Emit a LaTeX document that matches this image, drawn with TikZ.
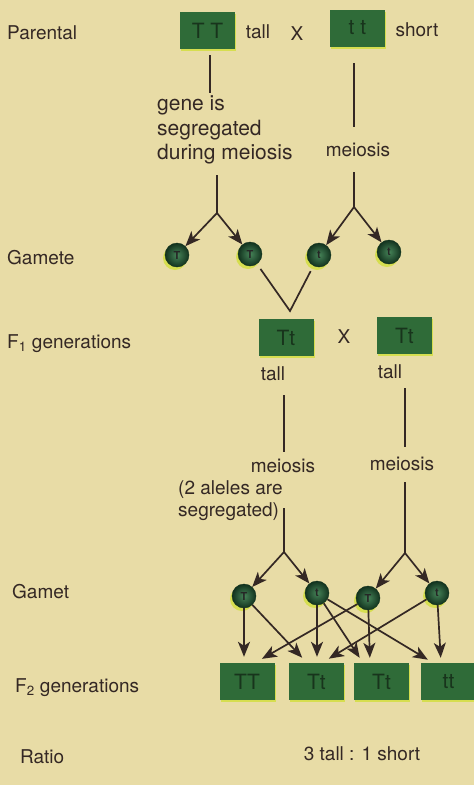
\documentclass[tikz,border=0pt]{standalone}
\usepackage{fontspec}
\setmainfont{TeX Gyre Heros}
\usetikzlibrary{arrows.meta,positioning,calc}
\definecolor{paper}{RGB}{232,220,166}
\definecolor{ink}{RGB}{52,40,36}
\definecolor{boxgreen}{RGB}{47,107,56}
\definecolor{boxtext}{RGB}{24,52,28}
\definecolor{glow}{RGB}{214,222,80}
\definecolor{gamdark}{RGB}{18,50,30}
\definecolor{gamlight}{RGB}{70,132,88}

\begin{document}
\begin{tikzpicture}[x=1pt, y=-1pt, >=Stealth,
  txt/.style={inner sep=0pt, text=ink, font=\fontsize{19}{23}\selectfont, text height=14pt, text depth=4pt},
  side/.style={txt, anchor=west},
  note/.style={inner sep=0pt, text=ink, align=left, anchor=west, font=\fontsize{19}{22}\selectfont},
  geno/.style={fill=boxgreen, minimum width=55pt, minimum height=37pt, inner sep=0pt, text=boxtext,
    font=\fontsize{21}{21}\selectfont, preaction={fill=glow, transform canvas={shift={(1pt,-2pt)}}}},
  gam/.style={circle, minimum size=24pt, inner sep=0pt, inner color=gamlight, outer color=gamdark,
    draw=gamdark, thin, text=black!85, font=\fontsize{11}{11}\selectfont\bfseries,
    preaction={fill=glow, transform canvas={shift={(-2pt,-3pt)}}}},
  link/.style={draw=ink, line width=1.7pt},
  arr/.style={link, -{Stealth[length=15pt, width=12pt, inset=4pt]}}]

  \fill[paper] (0,0) rectangle (474,785);
  \useasboundingbox (0,0) rectangle (474,785);

  % Row labels
  \node[side] (lpar) at (7,34) {Parental};
  \node[side] (lgam) at (7,259) {Gamete};
  \node[side] (lfa) at (7,343) {F\textsubscript{1} generations};
  \node[side] (lgamb) at (12,593) {Gamet};
  \node[side] (lfb) at (15,687) {F\textsubscript{2} generations};
  \node[side] (lratio) at (20,758) {Ratio};

  % Parents
  \node[geno] (pTT) at (207.5,30.5) {T T};
  \node[txt] (tallp) at (258,33) {tall};
  \node[txt] (xp) at (297,35) {X};
  \node[geno] (ptt) at (357.5,28) {t t};
  \node[txt] (shortp) at (417,31) {short};
  \node[note, font=\fontsize{21}{24.5}\selectfont] (seg) at (157,130) {gene is\\segregated\\during meiosis};
  \node[txt] (meia) at (358,151) {meiosis};
  \coordinate (fa) at (217,213);
  \coordinate (fb) at (354,207);

  % Gametes
  \node[gam] (g1) at (177,255) {T};
  \node[gam] (g2) at (250,254) {T};
  \node[gam] (g3) at (319,255) {t};
  \node[gam] (g4) at (389,252) {t};
  \coordinate (va) at (290,311);

  % F1
  \node[geno] (fTt) at (286,337.5) {Tt};
  \node[txt] (xf) at (344,338) {X};
  \node[geno] (fTtb) at (404.5,335.5) {Tt};
  \node[txt] (tallf) at (273,375) {tall};
  \node[txt] (tallg) at (390,373) {tall};
  \node[txt] (meib) at (283,467) {meiosis};
  \node[note] (alel) at (178,501) {(2 aleles are\\segregated)};
  \node[txt] (meic) at (402,465) {meiosis};
  \coordinate (fc) at (284,552);
  \coordinate (fd) at (405,553);

  % Gametes of F1
  \node[gam] (h1) at (244,596) {T};
  \node[gam] (h2) at (317,593) {t};
  \node[gam] (h3) at (368,598) {T};
  \node[gam] (h4) at (437,593) {t};

  % F2
  \node[geno] (sTT) at (247,681.5) {TT};
  \node[geno] (sTt) at (316.5,681.5) {Tt};
  \node[geno] (sTtb) at (381.5,681.5) {Tt};
  \node[geno] (stt) at (448.5,681.5) {tt};
  \node[txt] (ratio) at (362,755) {3 tall : 1 short};

  % Draw lines
  \draw[link, shorten <=6pt, shorten >=3pt] ([xshift=2.5pt]pTT.south) -- ([xshift=2.5pt]pTT.south |- seg.north);
  \draw[link, shorten <=11pt] (fa |- seg.south) -- (fa);
  \draw[arr] (fa) -- (g1);
  \draw[arr] (fa) -- (g2);
  \draw[link, shorten <=16.5pt, shorten >=15pt] (fb |- ptt.south) -- (fb |- meia.north);
  \draw[link, shorten <=12pt] (fb |- meia.south) -- (fb);
  \draw[arr] (fb) -- (g3);
  \draw[arr] (fb) -- (g4);
  \draw[link, shorten <=6pt, shorten >=6pt] (g2) -- (va) -- (g3);

  \draw[link, shorten <=11pt, shorten >=6pt] (fc |- tallf.south) -- (fc |- meib.north);
  \draw[link, shorten <=32pt] (fc |- meib.south) -- (fc);
  \draw[link, shorten <=6pt, shorten >=9pt] (fd |- tallg.south) -- (fd |- meic.north);
  \draw[link, shorten <=8pt] (fd |- meic.south) -- (fd);
  \draw[arr] (fc) -- (h1);
  \draw[arr] (fc) -- (h2);
  \draw[arr] (fd) -- (h3);
  \draw[arr] (fd) -- (h4);

  % Draw arrows to F2
  \draw[arr, shorten >=6pt] (h1) -- (h1 |- sTT.north);
  \draw[arr, shorten >=7pt] (h1) -- ([xshift=-9.5pt]sTt.north);
  \draw[arr, shorten >=6pt] (h2) -- (h2 |- sTt.north);
  \draw[arr, shorten >=6pt] (h2) -- ([xshift=-18.5pt]sTtb.north);
  \draw[arr, shorten >=6pt] (h2) -- ([xshift=-15.5pt]stt.north);
  \draw[arr, shorten >=8pt] (h3) -- ([xshift=8pt]sTT.north);
  \draw[arr, shorten >=5pt] (h3) -- ([xshift=-11.5pt]sTtb.north);
  \draw[arr, shorten >=8pt] (h4) -- ([xshift=5.5pt]sTt.north);
  \draw[arr, shorten >=5pt] (h4) -- ([xshift=-7.5pt]stt.north);
\end{tikzpicture}
\end{document}
